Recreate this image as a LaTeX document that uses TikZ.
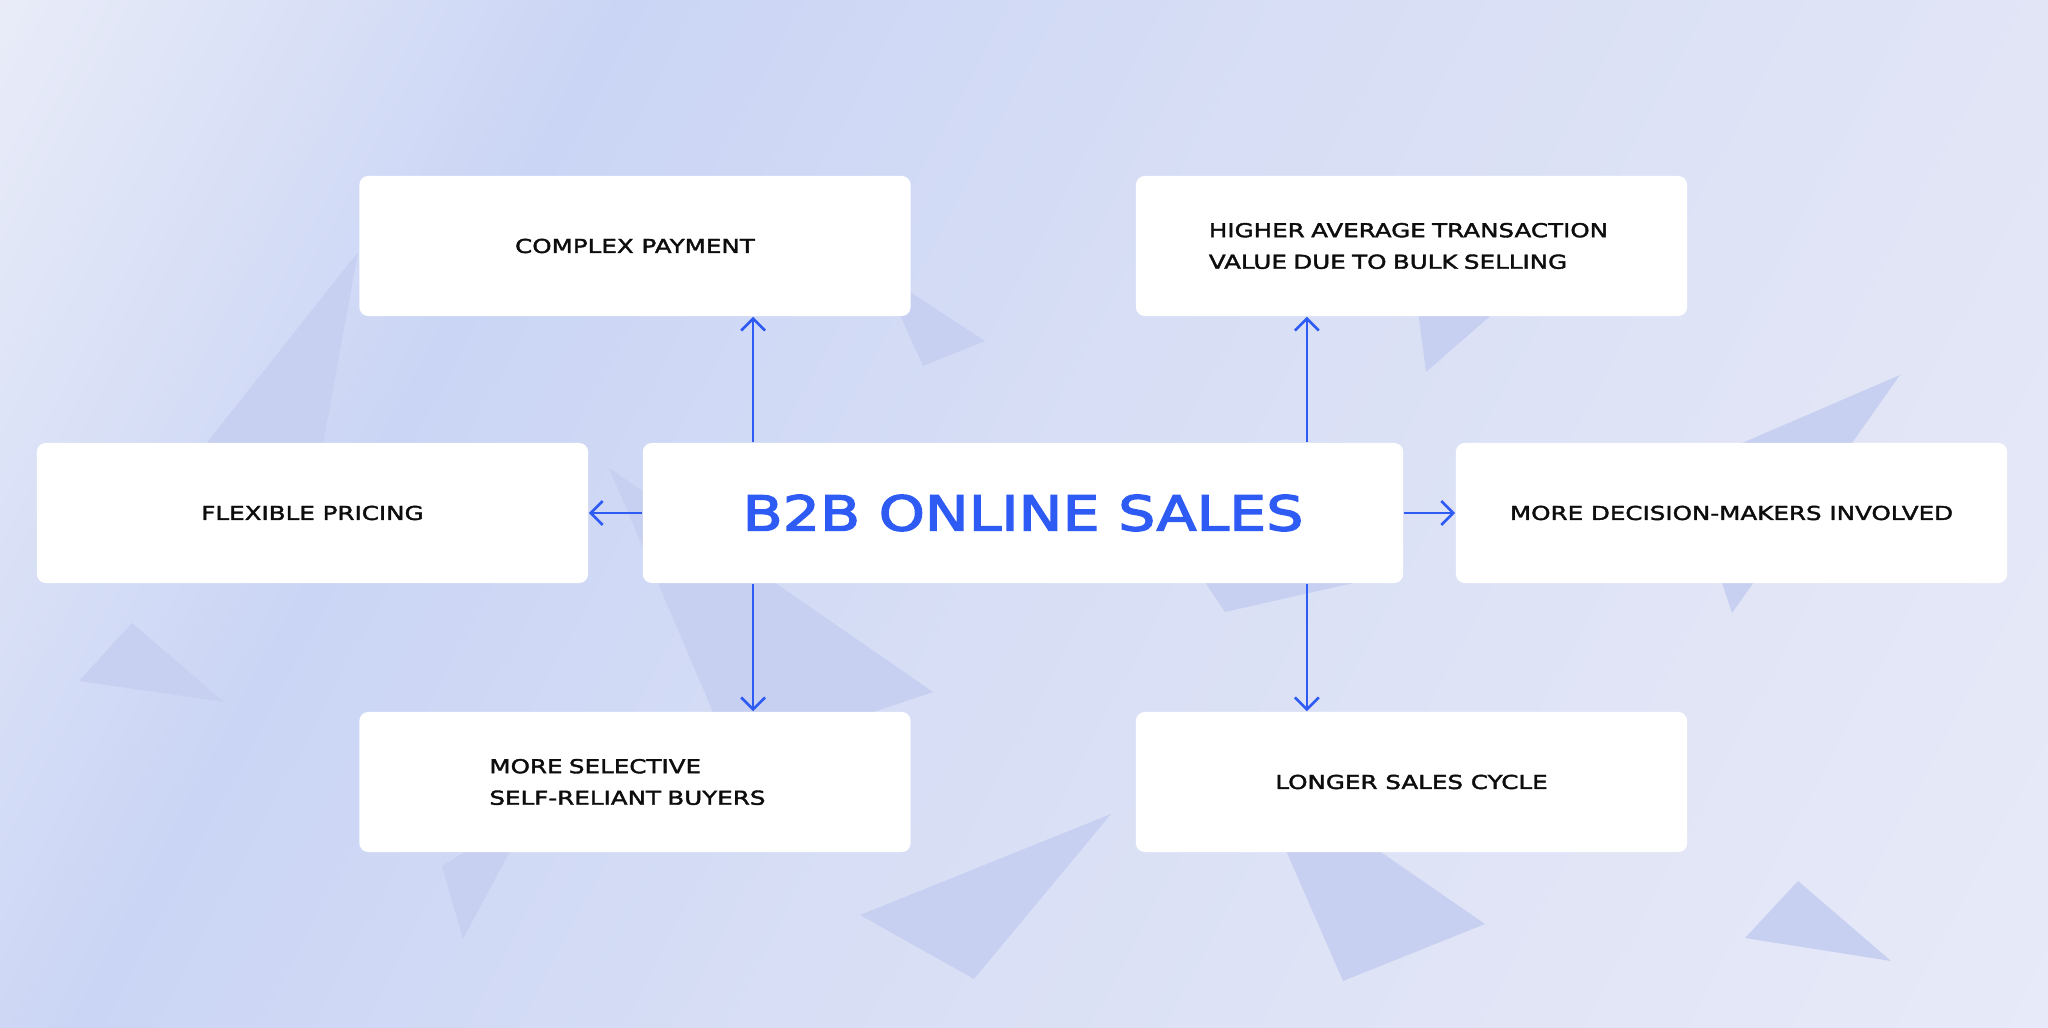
\documentclass[tikz,border=0pt]{standalone}
\usepackage{fontspec}
\setmainfont{DejaVu Sans}[FakeStretch=1.28, FakeBold=2]
\newfontfamily\bigtitlefamily{DejaVu Sans}[FakeStretch=1.22, FakeBold=3]
\usetikzlibrary{arrows.meta,calc}

\definecolor{bgA}{HTML}{E9ECF8}
\definecolor{bgB}{HTML}{CAD5F5}
\definecolor{bgC}{HTML}{D7DEF5}
\definecolor{bgD}{HTML}{E0E4F6}
\definecolor{bgE}{HTML}{E7EAF8}
\definecolor{triC}{HTML}{C8D0F2}
\definecolor{blueA}{HTML}{2F5BF5}
\definecolor{ink}{HTML}{0D0D0D}

\pgfdeclarehorizontalshading{bgshade}{100bp}{color(0bp)=(bgA); color(25bp)=(bgA); color(37bp)=(bgB); color(50bp)=(bgC); color(63bp)=(bgD); color(75bp)=(bgE); color(100bp)=(bgE)}

\newcommand\cardfont{\normalfont\fontsize{5.46pt}{8.96pt}\selectfont}
\newcommand\bigtitlefont{\bigtitlefamily\fontsize{13.66pt}{16pt}\selectfont}

\tikzset{
  card/.style={fill=white, rounded corners=0.09cm, minimum width=5.51cm, minimum height=1.40cm, inner sep=0pt, font=\cardfont, text=ink},
  tri/.style={fill=triC},
  conn/.style={draw=blueA, line width=0.026cm, -{Straight Barb[length=0.12cm,width=0.24cm]}},
}

\begin{document}
\begin{tikzpicture}[x=0.01cm,y=-0.01cm]
\useasboundingbox (0,0) rectangle (2048,1028);
\begin{scope}
  \clip (0,0) rectangle (2048,1028);
  \shade[shading=bgshade, shading angle=-28] (-126,-636) rectangle (2174,1664);
\end{scope}

% background triangles
\fill[tri] (358,252) -- (114,560) -- (302,560) -- cycle;
\fill[tri] (132,623) -- (79,681) -- (224,702) -- cycle;
\fill[tri] (881,273) -- (985,341) -- (923,366) -- cycle;
\fill[tri] (1426,372) -- (1410,250) -- (1566,250) -- cycle;
\fill[tri] (609,468) -- (933,692) -- (733,759) -- cycle;
\fill[tri] (1225,612) -- (1150,500) -- (1380,577) -- cycle;
\fill[tri] (1900,375) -- (1684,468) -- (1732,613) -- cycle;
\fill[tri] (532,810) -- (442,866) -- (463,939) -- cycle;
\fill[tri] (1111,814) -- (860,915) -- (974,979) -- cycle;
\fill[tri] (1246,759) -- (1485,924) -- (1343,981) -- cycle;
\fill[tri] (1798,881) -- (1745,938) -- (1891,961) -- cycle;

% cards
\node[card] (cp) at (635,246) {COMPLEX PAYMENT\hspace{0.1cm}};
\node[card, align=left, text width=4.05cm, inner xsep=0.73cm] (ha) at (1411.5,246) {HIGHER AVERAGE TRANSACTION\\VALUE DUE TO BULK SELLING};
\node[card] (fp) at (312.5,513) {FLEXIBLE PRICING\hspace{0.1cm}};
\node[card, minimum width=7.60cm, font=\bigtitlefont, text=blueA] (b2b) at (1023,513) {B2B ONLINE SALES};
\node[card] (md) at (1731.5,513) {MORE DECISION-MAKERS INVOLVED\hspace{0.1cm}};
\node[card, align=left, text width=2.91cm, inner xsep=1.30cm] (ms) at (635,782) {MORE SELECTIVE\\SELF-RELIANT BUYERS};
\node[card] (ls) at (1411.5,782) {LONGER SALES CYCLE\hspace{0.1cm}};

% connectors
\coordinate (bl) at ([xshift=1.11cm]b2b.north west);
\coordinate (br) at ([xshift=-0.97cm]b2b.north east);
\draw[conn] (bl) -- (bl |- cp.south);
\draw[conn] (br) -- (br |- ha.south);
\draw[conn] (bl |- b2b.south) -- (bl |- ms.north);
\draw[conn] (br |- b2b.south) -- (br |- ls.north);
\draw[conn] (b2b.west) -- (fp.east);
\draw[conn] (b2b.east) -- (md.west);
\end{tikzpicture}
\end{document}
